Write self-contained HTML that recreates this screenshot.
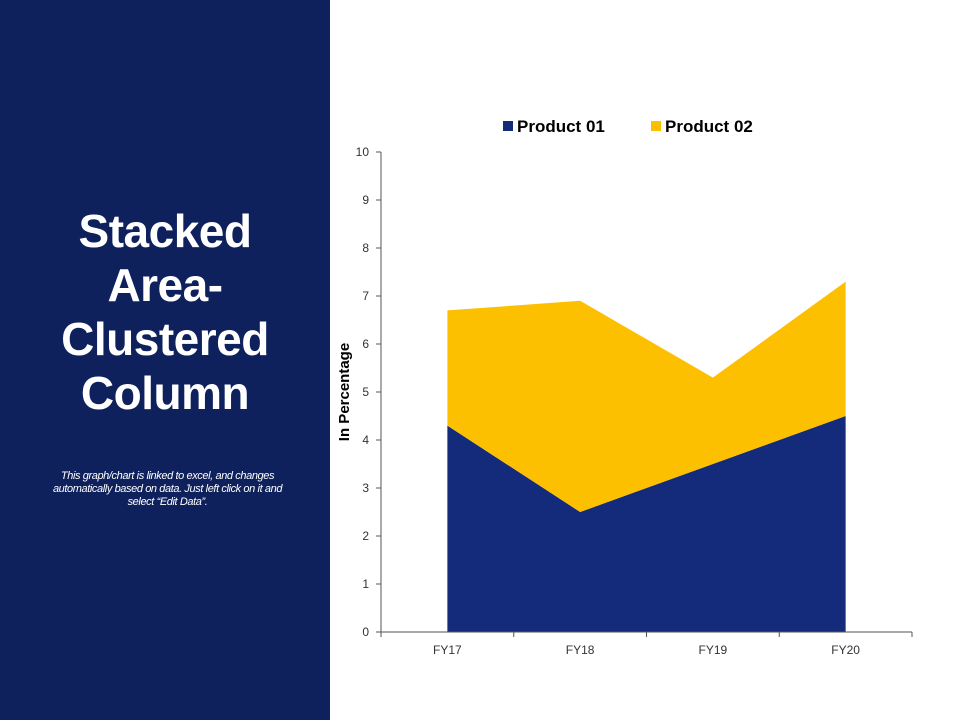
<!DOCTYPE html>
<html><head><meta charset="utf-8">
<style>
body{margin:0;width:960px;height:720px;overflow:hidden;font-family:"Liberation Sans",sans-serif;background:#fff;position:relative}
#panel{position:absolute;left:0;top:0;width:330px;height:720px;background:#0f215c}
#title{position:absolute;left:0;width:330px;top:204px;text-align:center;color:#fff;font-weight:bold;font-size:46px;line-height:54px;letter-spacing:-0.5px}
#desc{position:absolute;left:40px;width:255px;top:470px;text-align:center;color:#fff;font-style:italic;font-size:11px;line-height:13px;letter-spacing:-0.4px}
svg{position:absolute;left:0;top:0}
</style></head><body>
<div id="panel">
<div id="title">Stacked<br>Area-<br>Clustered<br>Column</div>
<div id="desc">This graph/chart is linked to excel, and changes automatically based on data. Just left click on it and select “Edit Data”.</div>
</div>
<svg id="chart" width="960" height="720"></svg>
<script>
const categories=["FY17","FY18","FY19","FY20"];
const product01=[4.3,2.5,3.5,4.5];
const product02=[2.4,4.4,1.8,2.8];
const yTicks=[0,1,2,3,4,5,6,7,8,9,10];
const NS="http://www.w3.org/2000/svg";
const svg=document.getElementById('chart');
const x0=381,x1=912,yb=632,yt=152,ymax=10;
const band=(x1-x0)/categories.length;
const xc=i=>x0+band*(i+0.5);
const ys=v=>yb-(v/ymax)*(yb-yt);
function mk(t,a,p){const e=document.createElementNS(NS,t);for(const k in a)e.setAttribute(k,a[k]);(p||svg).appendChild(e);return e;}
// areas
const tot=product01.map((v,i)=>v+product02[i]);
let p1="M"+xc(0)+","+yb;product01.forEach((v,i)=>p1+=" L"+xc(i)+","+ys(v));p1+=" L"+xc(categories.length-1)+","+yb+" Z";
const a1=mk('path',{d:p1,fill:'#132b7a'});


let p2="";tot.forEach((v,i)=>p2+=(i?" L":"M")+xc(i)+","+ys(v));
for(let i=categories.length-1;i>=0;i--)p2+=" L"+xc(i)+","+ys(product01[i]);p2+=" Z";
const a2=mk('path',{d:p2,fill:'#fdc000'});


// axes
const ya=mk('line',{x1:x0,y1:yt,x2:x0,y2:yb,stroke:'#555','stroke-width':1});


const xa=mk('line',{x1:x0,y1:yb,x2:x1,y2:yb,stroke:'#555','stroke-width':1});


yTicks.forEach(t=>{const y=ys(t);
mk('line',{x1:x0-5,y1:y,x2:x0,y2:y,stroke:'#555'});
const tx=mk('text',{x:x0-12,y:y+4,'text-anchor':'end','font-size':12,fill:'#333'});tx.textContent=t;

});
for(let i=0;i<=categories.length;i++){const x=x0+band*i;mk('line',{x1:x,y1:yb,x2:x,y2:yb+5,stroke:'#555'});}
categories.forEach((c,i)=>{const tx=mk('text',{x:xc(i),y:yb+22,'text-anchor':'middle','font-size':12,fill:'#333'});tx.textContent=c;

});
const yt2=mk('text',{x:349,y:392,'text-anchor':'middle','font-size':15,'font-weight':'bold',fill:'#000',transform:'rotate(-90 349 392)'});yt2.textContent="In Percentage";


// legend
const leg=[["Product 01","#132b7a",503],["Product 02","#fdc000",651]];
leg.forEach(l=>{const g=mk('g',{});


mk('rect',{x:l[2],y:121,width:10,height:10,fill:l[1]},g);
const t=mk('text',{x:l[2]+14,y:132,'font-size':17,'font-weight':'bold',fill:'#000'},g);t.textContent=l[0];});
</script>
</body></html>
